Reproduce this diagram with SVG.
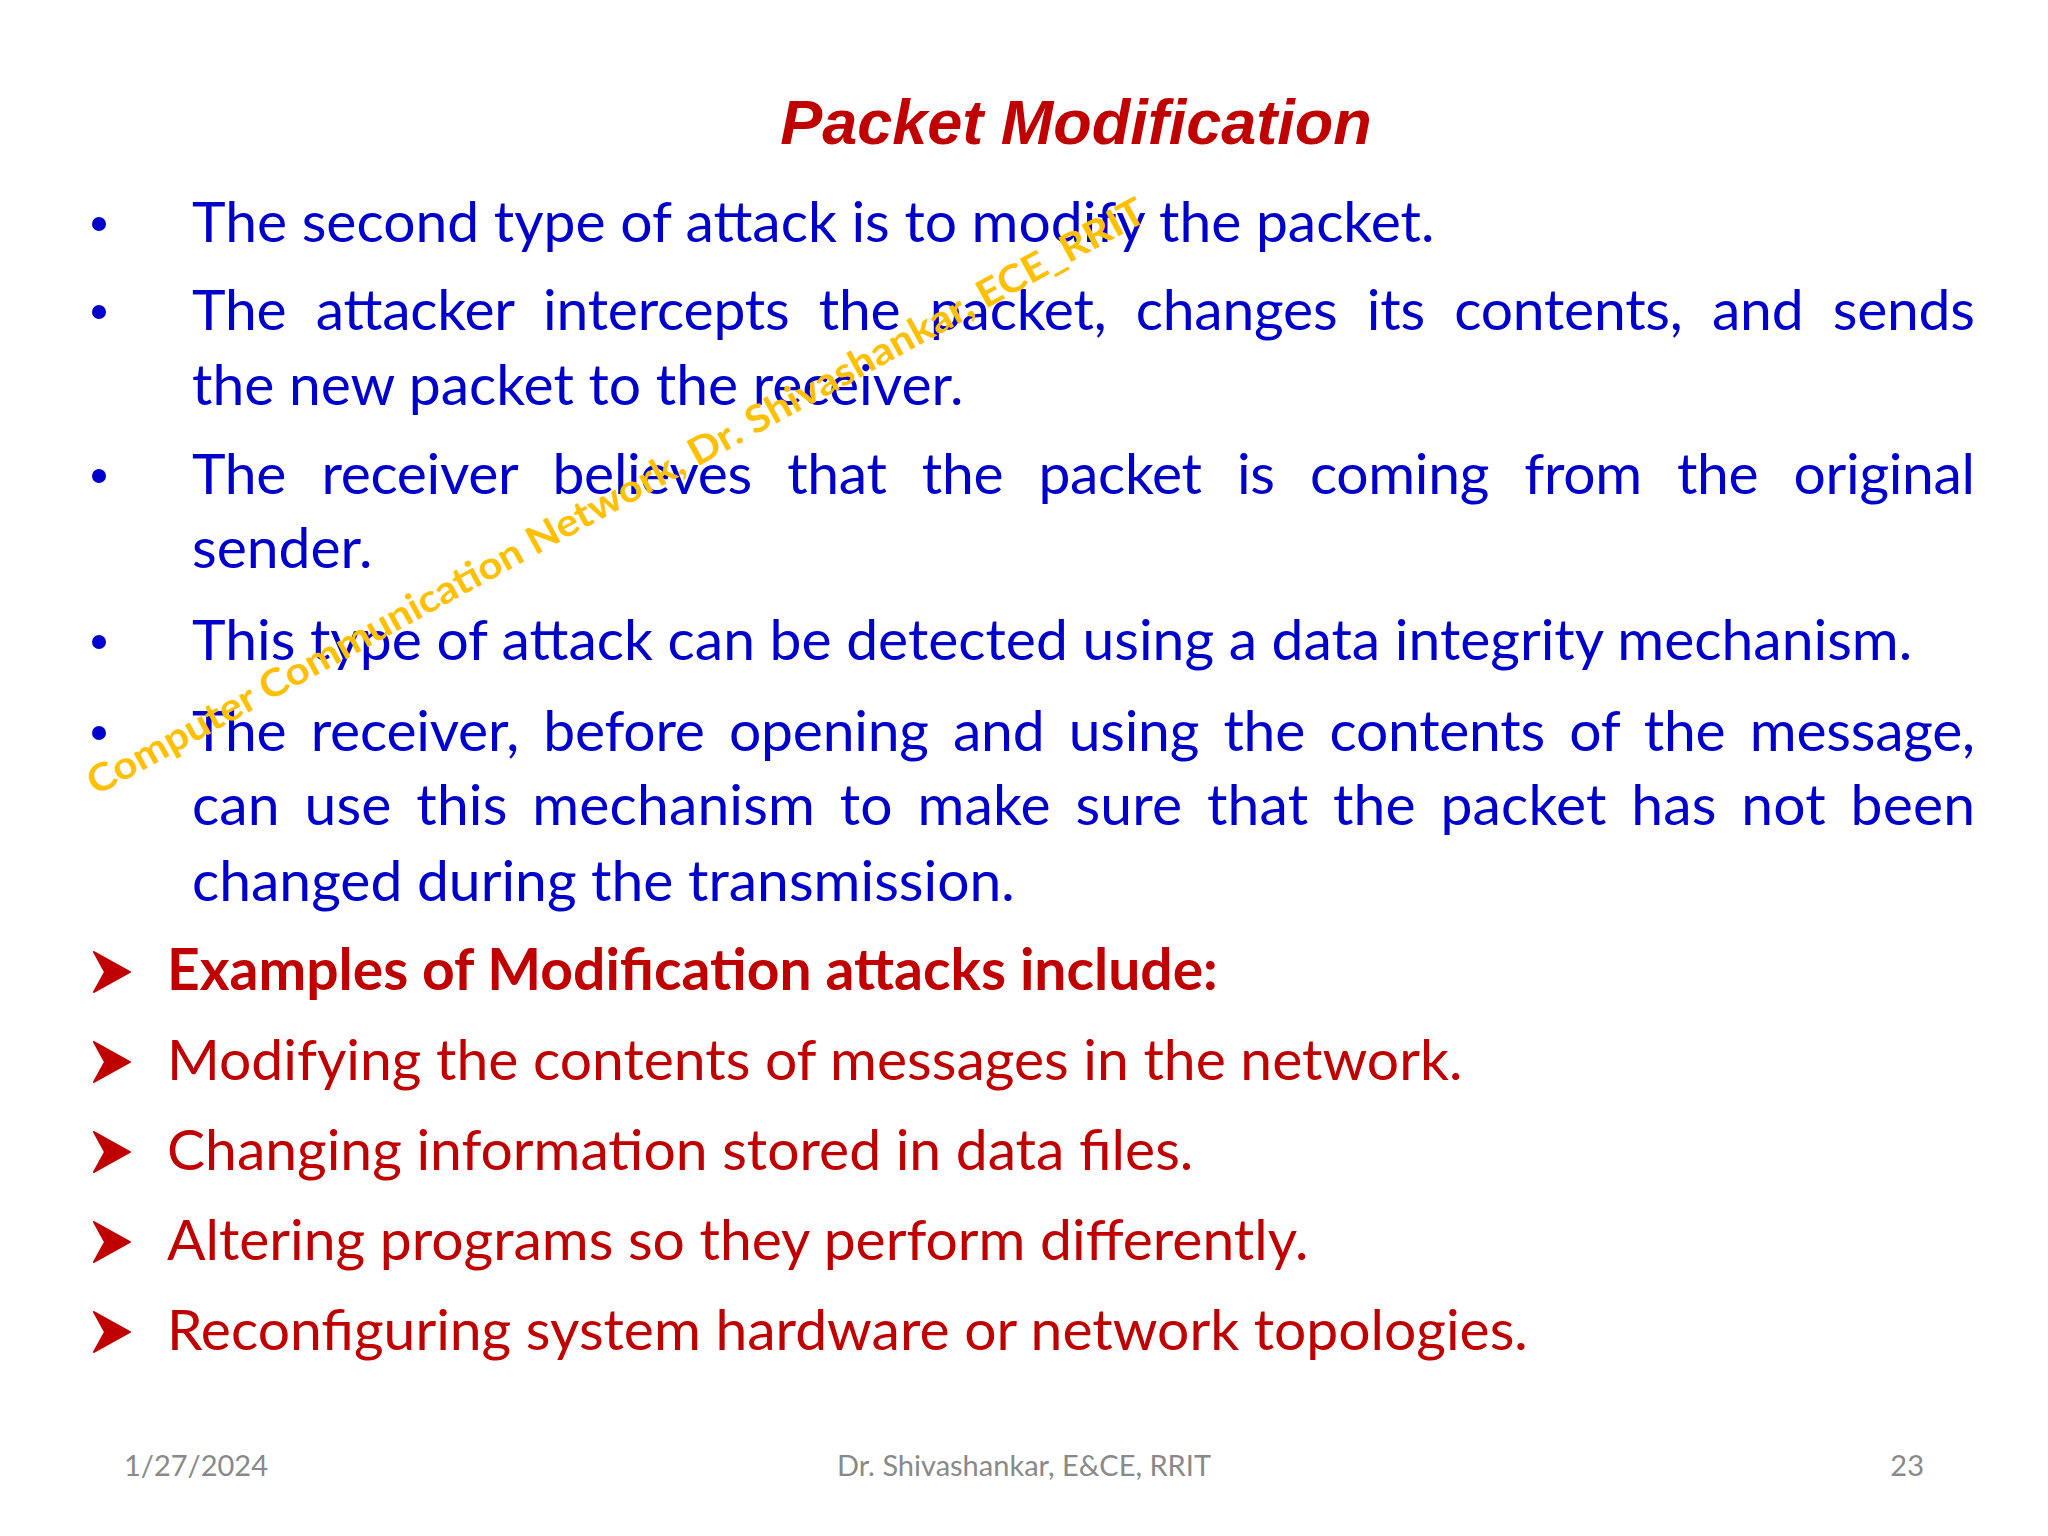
<svg xmlns="http://www.w3.org/2000/svg" width="2048" height="1536" viewBox="0 0 2048 1536">
<style>
.b{font-family:Lato,"Open Sans",sans-serif;font-size:57px;fill:#0000CC}
.r{font-family:Lato,"Open Sans",sans-serif;font-size:57px;fill:#C00000}
.f{font-family:Lato,"Open Sans",sans-serif;font-size:29px;fill:#898989}
</style>
<rect width="2048" height="1536" fill="#fff"/>
<text x="1076" y="144" text-anchor="middle" font-family="Liberation Sans,Arial,sans-serif" font-size="63" font-weight="bold" font-style="italic" fill="#C00000">Packet Modification</text>
<g class="b">
<circle cx="99" cy="224" r="7" fill="#0000CC"/>
<text x="192" y="242">The second type of attack is to modify the packet.</text>
<circle cx="99" cy="312" r="7" fill="#0000CC"/>
<text x="192" y="330" word-spacing="15" textLength="1783" lengthAdjust="spacing">The attacker intercepts the packet, changes its contents, and sends</text>
<text x="192" y="405">the new packet to the receiver.</text>
<circle cx="99" cy="476" r="7" fill="#0000CC"/>
<text x="192" y="494" word-spacing="21" textLength="1783" lengthAdjust="spacing">The receiver believes that the packet is coming from the original</text>
<text x="192" y="568">sender.</text>
<circle cx="99" cy="642" r="7" fill="#0000CC"/>
<text x="192" y="660">This type of attack can be detected using a data integrity mechanism.</text>
<circle cx="99" cy="733" r="7" fill="#0000CC"/>
<text x="192" y="751" word-spacing="10" textLength="1783" lengthAdjust="spacing">The receiver, before opening and using the contents of the message,</text>
<text x="192" y="825" word-spacing="10" textLength="1783" lengthAdjust="spacing">can use this mechanism to make sure that the packet has not been</text>
<text x="192" y="901">changed during the transmission.</text>
</g>
<defs><path id="arr" d="M0,-20 L36,0 L0,20 L11,0 Z" fill="#C00000" stroke="#C00000" stroke-width="2" stroke-linejoin="round"/></defs>
<g class="r">
<use href="#arr" x="94" y="972"/>
<text x="167" y="990" font-weight="bold">Examples of Modification attacks include:</text>
<use href="#arr" x="94" y="1062"/>
<text x="167" y="1080">Modifying the contents of messages in the network.</text>
<use href="#arr" x="94" y="1152"/>
<text x="167" y="1170">Changing information stored in data files.</text>
<use href="#arr" x="94" y="1242"/>
<text x="167" y="1260">Altering programs so they perform differently.</text>
<use href="#arr" x="94" y="1332"/>
<text x="167" y="1350">Reconfiguring system hardware or network topologies.</text>
</g>
<text transform="translate(96,796) rotate(-28.7)" font-family="Lato,Open Sans,sans-serif" font-size="38" font-weight="bold" fill="#FFC000" textLength="1200" lengthAdjust="spacingAndGlyphs">Computer Communication Network, Dr. Shivashankar, ECE_RRIT</text>
<text class="f" x="124" y="1476">1/27/2024</text>
<text class="f" x="1024" y="1476" text-anchor="middle">Dr. Shivashankar, E&amp;CE, RRIT</text>
<text class="f" x="1924" y="1476" text-anchor="end">23</text>
</svg>
